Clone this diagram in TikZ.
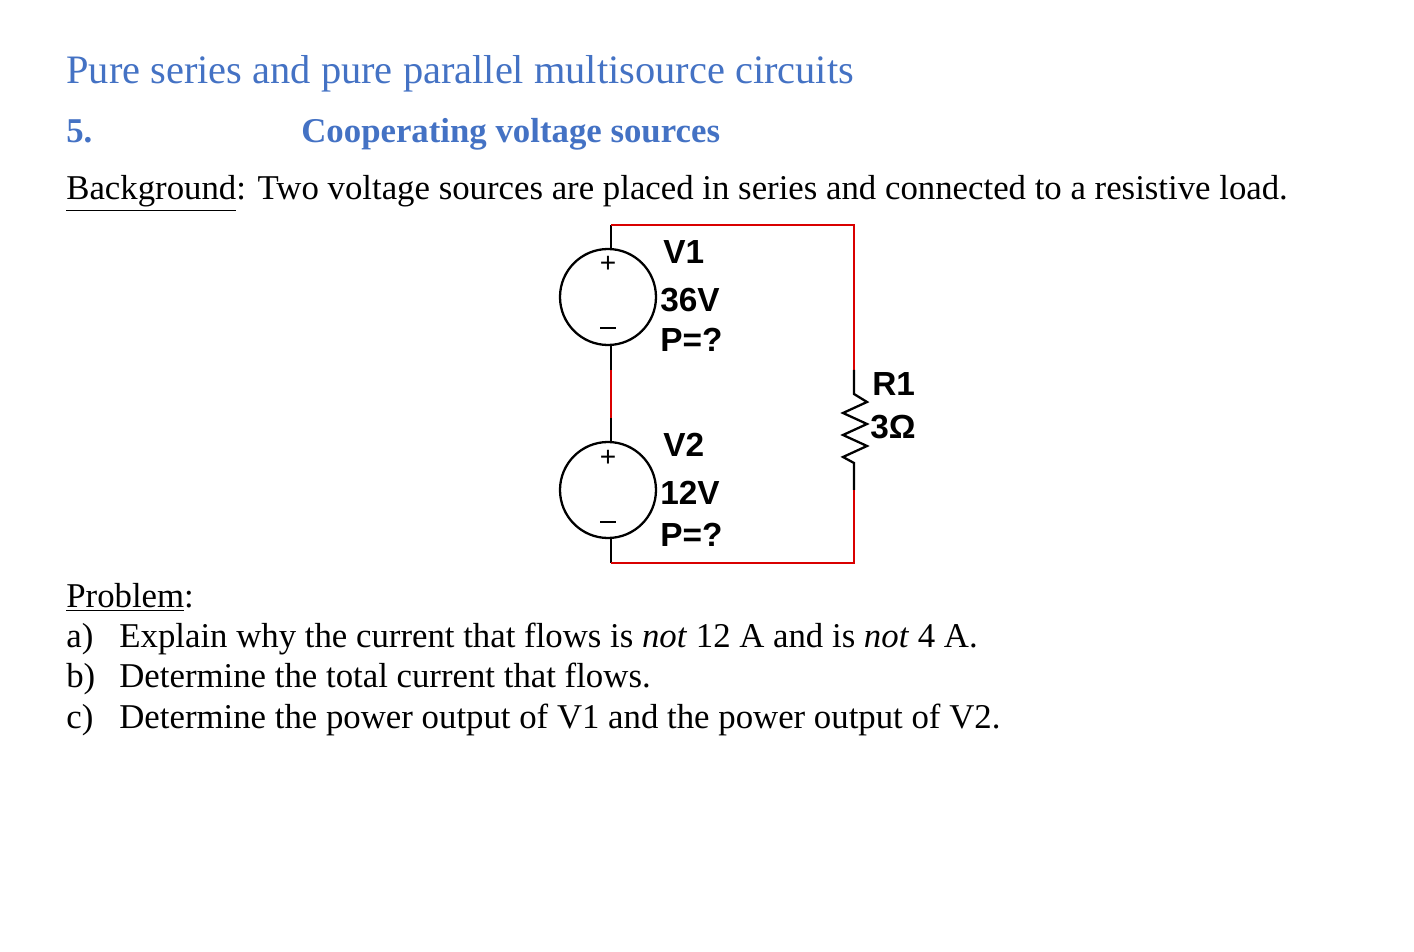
\documentclass[tikz,border=0pt]{standalone}
\usepackage{fontspec}
\setmainfont{Liberation Serif}
\newfontfamily\lsans{Liberation Sans}
\begin{document}
\begin{tikzpicture}[x=0.02cm,y=-0.02cm,
  txt/.style={anchor=base west,inner sep=0,font=\fontsize{19.8}{22}\selectfont},
  lab/.style={anchor=west,inner sep=0,font=\lsans\bfseries\fontsize{19}{21}\selectfont},
  wire/.style={line width=1.4pt,red!85!black},
  bw/.style={line width=1.3pt,black}]
\useasboundingbox (0,0) rectangle (1414,952);
\definecolor{hblue}{RGB}{68,114,196}
\node[txt,font=\fontsize{23}{25}\selectfont,text=hblue] (t) at (66,84) {Pure series and pure parallel multisource circuits};
\node[txt,font=\bfseries\fontsize{19.8}{22}\selectfont,text=hblue] (n5) at (66,143) {5.};
\node[txt,font=\bfseries\fontsize{19.8}{22}\selectfont,text=hblue] (h) at (301,143) {Cooperating voltage sources};
\node[txt] (bg) at (66,200) {\underline{Background}: Two voltage sources are placed in series and connected to a resistive load.};
\node[txt] (pb) at (66,608) {\underline{Problem}:};
\node[txt] (a) at (66,648) {a)};
\node[txt] (at) at (119,648) {Explain why the current that flows is \textit{not} 12 A and is \textit{not} 4 A.};
\node[txt] (b) at (66,688) {b)};
\node[txt] (bt) at (119,688) {Determine the total current that flows.};
\node[txt] (c) at (66,728) {c)};
\node[txt] (ct) at (119,728) {Determine the power output of V1 and the power output of V2.};
% sources
\node[draw,circle,line width=1.3pt,minimum size=96*0.02cm,inner sep=0] (v1) at (608,297) {};
\node[draw,circle,line width=1.3pt,minimum size=96*0.02cm,inner sep=0] (v2) at (608,490) {};
\node[font=\lsans\fontsize{16}{16}\selectfont,inner sep=0] (p1) at (608,264) {+};
\node[inner sep=0] (m1) at (608,328) {\rule{9pt}{0.8pt}};
\node[font=\lsans\fontsize{16}{16}\selectfont,inner sep=0] (p2) at (608,458) {+};
\node[inner sep=0] (m2) at (608,522) {\rule{9pt}{0.8pt}};
\coordinate (tl) at (611,225); \coordinate (tr) at (854,225);
\coordinate (bl) at (611,563); \coordinate (br) at (854,563);
\coordinate (v1b) at (611,370); \coordinate (v2t) at (611,418);
\coordinate (r1t) at (854,370); \coordinate (r1b) at (854,490);
\draw[bw] (tl) -- (v1.north -| tl);
\draw[bw] (v1.south -| tl) -- (v1b);
\draw[bw] (v2t) -- (v2.north -| tl);
\draw[bw] (v2.south -| tl) -- (bl);
\draw[wire] (tl) -- (tr) -- (r1t);
\draw[wire] (v1b) -- (v2t);
\draw[wire] (r1b) -- (br) -- (bl);
\draw[bw,line join=miter] (r1t) -- (854,394) -- (867,402) -- (843,413) -- (867,424) -- (843,435) -- (867,446) -- (843,457) -- (854,463) -- (r1b);
\node[lab] (l1) at (663,252) {V1};
\node[lab] (l2) at (660,300) {36V};
\node[lab] (l3) at (660,340) {P=?};
\node[lab] (l4) at (663,445) {V2};
\node[lab] (l5) at (660,493) {12V};
\node[lab] (l6) at (660,535) {P=?};
\node[lab] (l7) at (872,384) {R1};
\node[lab] (l8) at (870,427) {3Ω};
\end{tikzpicture}
\end{document}
